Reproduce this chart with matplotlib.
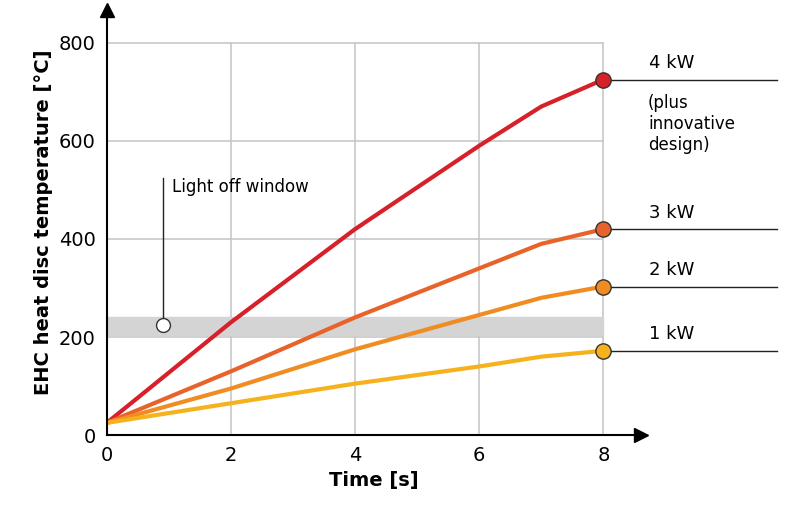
import matplotlib.pyplot as plt

# data
t = [0, 2, 4, 6, 7, 8]
temp_4kw = [25, 230, 420, 590, 670, 725]
temp_3kw = [25, 130, 240, 340, 390, 420]
temp_2kw = [25, 95, 175, 245, 280, 303]
temp_1kw = [25, 65, 105, 140, 160, 172]
series = [(temp_4kw, '#d7212a', '4 kW'), (temp_3kw, '#e8632a', '3 kW'),
          (temp_2kw, '#f08c22', '2 kW'), (temp_1kw, '#f5b21c', '1 kW')]
band = (205, 240)

fig = plt.figure(figsize=(7.85, 5.23), dpi=100)
ax = fig.add_axes([0.136, 0.168, 0.68, 0.813])
ax.set_xlim(0, 8.6)
ax.set_ylim(0, 867)

for x in [2, 4, 6, 8]:
    ax.plot([x, x], [0, 800], color='#c8c8c8', lw=1.2, zorder=0)
for y in [200, 400, 600, 800]:
    ax.plot([0, 8], [y, y], color='#c8c8c8', lw=1.2, zorder=0)
ax.fill_between([0, 8], band[0], band[1], color='#d4d4d4', zorder=0.5)

for vals, col, lab in series:
    ax.plot(t, vals, color=col, lw=3, zorder=2)
    ax.plot(t[-1], vals[-1], 'o', ms=11, mfc=col, mec='#333333', mew=1, zorder=4, clip_on=False)
    ax.plot([t[-1], 10.8], [vals[-1], vals[-1]], color='#222222', lw=1, zorder=3, clip_on=False)
    ax.text(9.1, vals[-1] + 15, lab, fontsize=13, ha='center', va='bottom', clip_on=False)
ax.text(8.72, 695, '(plus\ninnovative\ndesign)', fontsize=12, va='top', ha='left', linespacing=1.2)

ax.plot([0.9, 0.9], [225, 525], color='#222222', lw=1, zorder=3)
ax.plot(0.9, 225, 'o', ms=10, mfc='white', mec='#333333', mew=1, zorder=4)
ax.text(1.05, 505, 'Light off window', fontsize=12, va='center')

for s in ['top', 'right']:
    ax.spines[s].set_visible(False)
for s in ['left', 'bottom']:
    ax.spines[s].set_linewidth(1.5)
ax.plot(1, 0, '>k', ms=10, transform=ax.transAxes, clip_on=False)
ax.plot(0, 1, '^k', ms=10, transform=ax.transAxes, clip_on=False)

ax.set_xticks([0, 2, 4, 6, 8])
ax.set_yticks([0, 200, 400, 600, 800])
ax.tick_params(labelsize=14, length=0, pad=8)
ax.set_xlabel('Time [s]', fontsize=14, fontweight='bold')
ax.set_ylabel('EHC heat disc temperature [°C]', fontsize=14, fontweight='bold')

fig.savefig('out.png')
